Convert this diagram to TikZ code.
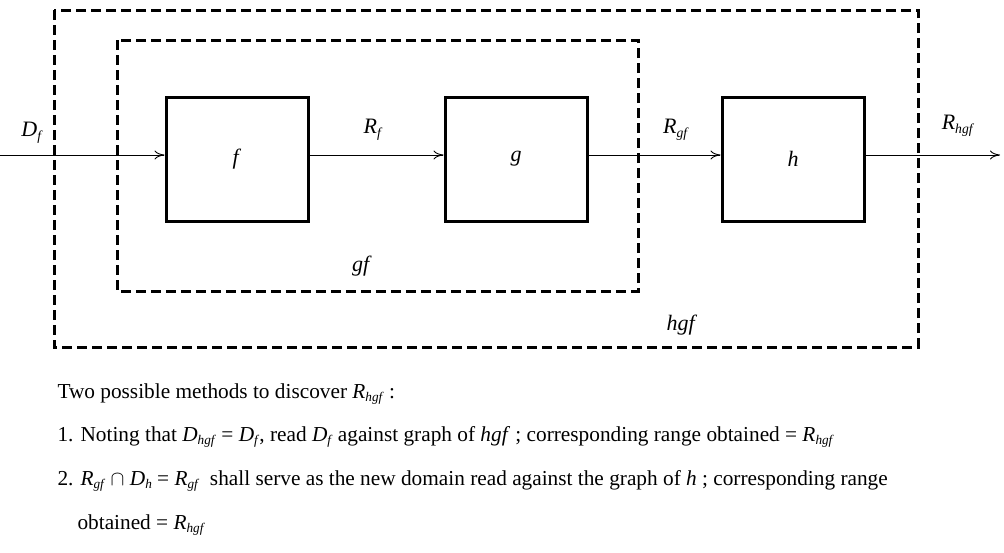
\documentclass[tikz,border=0pt]{standalone}
\usepackage{fontspec}
\setmainfont{Liberation Serif}
\usetikzlibrary{arrows.meta}
\newcommand{\mi}[1]{\textit{#1}}
\newcommand{\sbs}[1]{\raisebox{-0.35ex}{\scalebox{0.62}{\textit{#1}}}}
\begin{document}
\begin{tikzpicture}[x=1pt,y=-1pt,
  box/.style={draw,line width=3pt},
  grp/.style={draw,line width=3pt,dash pattern=on 10pt off 5pt},
  arr/.style={-{To[length=10pt,width=9pt]},line width=0.9pt},
  lab/.style={font=\fontsize{22}{24}\selectfont},
  txt/.style={anchor=west,font=\fontsize{21.3}{24}\selectfont}]
\useasboundingbox (0,0) rectangle (1004,552);
\draw[grp] (54,10) rectangle (918,347);
\draw[grp] (117,40) rectangle (638,291);
\node[box,minimum width=142pt,minimum height=124pt] (f) at (237,159) {};
\node[box,minimum width=142pt,minimum height=124pt] (g) at (516,159) {};
\node[box,minimum width=142pt,minimum height=124pt] (h) at (793,159) {};
\node[lab] at (f) {\mi{f}};
\node[lab] at (g) {\mi{g}};
\node[lab] at (h) {\mi{h}};
\coordinate (in) at (0,155);
\coordinate (out) at (1000,155);
\draw[arr] (in) -- (f.west|-in);
\draw[arr] (f.east|-in) -- (g.west|-in);
\draw[arr] (g.east|-in) -- (h.west|-in);
\draw[arr] (h.east|-in) -- (out);
\node[lab] at (32,133) {\mi{D}\sbs{f}};
\node[lab] at (373,130) {\mi{R}\sbs{f}};
\node[lab] at (676,130) {\mi{R}\sbs{gf}};
\node[lab] at (958,126) {\mi{R}\sbs{hgf}};
\node[lab] at (362,266) {\mi{gf}};
\node[lab] at (682,325) {\mi{hgf}};
\node[txt] at (54,394) {Two possible methods to discover \mi{R}\sbs{hgf} :};
\node[txt] at (54,437) {1. Noting that \mi{D}\sbs{hgf} = \mi{D}\sbs{f}, read \mi{D}\sbs{f} against graph of \mi{hgf} ; corresponding range obtained = \mi{R}\sbs{hgf}};
\node[txt] at (54,481) {2. \mi{R}\sbs{gf} $\cap$ \mi{D}\sbs{h} = \mi{R}\sbs{gf} \ shall serve as the new domain read against the graph of \mi{h} ; corresponding range};
\node[txt] at (74,525) {obtained = \mi{R}\sbs{hgf}};
\end{tikzpicture}
\end{document}
